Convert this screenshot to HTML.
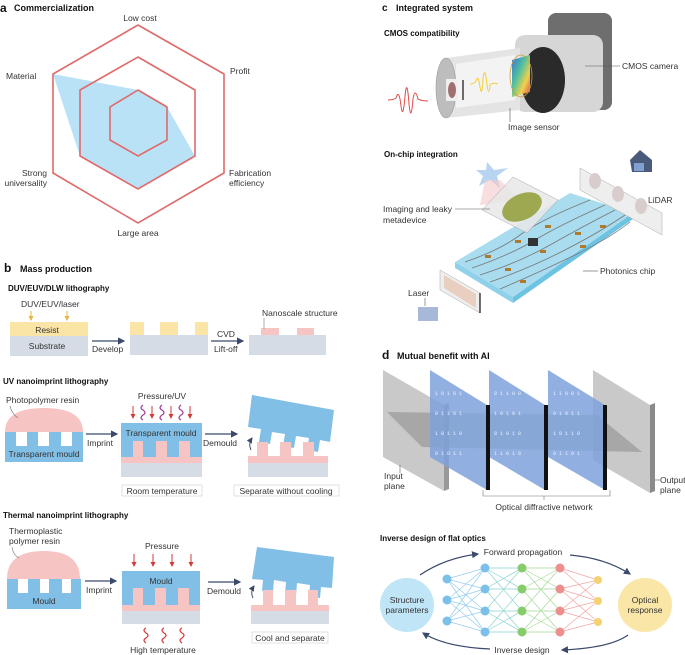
<!DOCTYPE html>
<html><head><meta charset="utf-8"><style>
html,body{margin:0;padding:0;background:#fff;}
svg{display:block;font-family:"Liberation Sans",sans-serif;}
.t{font-size:8.5px;fill:#333;}
.b{font-size:9px;font-weight:bold;fill:#111;}
.L{font-size:12px;font-weight:bold;fill:#111;}
</style></head><body>
<svg width="685" height="655" viewBox="0 0 685 655" xmlns="http://www.w3.org/2000/svg">
<defs>
<marker id="ar" markerWidth="6" markerHeight="6" refX="5" refY="3" orient="auto"><path d="M0,0L6,3L0,6z" fill="#3b4a6b"/></marker>
<marker id="rr" markerWidth="5" markerHeight="5" refX="4" refY="2.5" orient="auto"><path d="M0,0L5,2.5L0,5z" fill="#d33a3a"/></marker>
<marker id="yr" markerWidth="5" markerHeight="5" refX="4" refY="2.5" orient="auto"><path d="M0,0L5,2.5L0,5z" fill="#e8b53a"/></marker>
<linearGradient id="spec" x1="0" y1="0" x2="1" y2="1"><stop offset="0" stop-color="#3b6fd8"/><stop offset=".4" stop-color="#4fc1a0"/><stop offset=".7" stop-color="#f2d14a"/><stop offset="1" stop-color="#e0405a"/></linearGradient>
</defs>

<!-- Panel a -->
<text x="0" y="12" class="L">a</text><text x="14" y="11" class="b">Commercialization</text>
<polygon points="53,74 138,90 167,107 195,156 138,189 80,156" fill="#b9e2f7"/>
<g fill="none" stroke="#e06a6a" stroke-width="1.6">
<polygon points="138,25 224,74 224,173 138,223 53,173 53,74"/>
<polygon points="138,57 195,90 195,156 138,189 80,156 80,90"/>
<polygon points="138,90 167,107 167,140 138,156 110,140 110,107"/>
</g>
<text x="140" y="21" class="t" text-anchor="middle">Low cost</text>
<text x="230" y="74" class="t">Profit</text>
<text x="6" y="79" class="t">Material</text>
<text x="229" y="176" class="t">Fabrication</text><text x="229" y="186" class="t">efficiency</text>
<text x="47" y="176" class="t" text-anchor="end">Strong</text><text x="47" y="186" class="t" text-anchor="end">universality</text>
<text x="138" y="236" class="t" text-anchor="middle">Large area</text>

<!-- Panel b -->
<text x="4" y="272" class="L">b</text><text x="20" y="272" class="b">Mass production</text>
<text x="8" y="291" class="b" style="font-size:8px">DUV/EUV/DLW lithography</text>
<text x="21" y="307" class="t">DUV/EUV/laser</text>
<line x1="31" y1="311" x2="31" y2="320" stroke="#e8b53a" stroke-width="1" marker-end="url(#yr)"/>
<line x1="67" y1="311" x2="67" y2="320" stroke="#e8b53a" stroke-width="1" marker-end="url(#yr)"/>
<rect x="10" y="322" width="78" height="14" fill="#fbe5a6"/><rect x="10" y="336" width="78" height="20" fill="#d5dce5"/>
<text x="47" y="333" class="t" text-anchor="middle">Resist</text><text x="47" y="349" class="t" text-anchor="middle">Substrate</text>
<line x1="92" y1="341" x2="124" y2="341" stroke="#3b4a6b" stroke-width="1.2" marker-end="url(#ar)"/>
<text x="92" y="352" class="t">Develop</text>
<rect x="130" y="335" width="78" height="20" fill="#d5dce5"/>
<rect x="130" y="322" width="14" height="13" fill="#fbe5a6"/><rect x="160" y="322" width="18" height="13" fill="#fbe5a6"/><rect x="195" y="322" width="13" height="13" fill="#fbe5a6"/>
<line x1="211" y1="341" x2="243" y2="341" stroke="#3b4a6b" stroke-width="1.2" marker-end="url(#ar)"/>
<text x="217" y="337" class="t">CVD</text><text x="214" y="352" class="t">Lift-off</text>
<rect x="249" y="335" width="77" height="20" fill="#d5dce5"/>
<rect x="261" y="328" width="18" height="7" fill="#f6c4c2"/><rect x="297" y="328" width="17" height="7" fill="#f6c4c2"/>
<line x1="264" y1="318" x2="264" y2="329" stroke="#777" stroke-width=".6"/>
<text x="262" y="316" class="t">Nanoscale structure</text>

<text x="3" y="384" class="b" style="font-size:8px">UV nanoimprint lithography</text>
<text x="6" y="403" class="t">Photopolymer resin</text>
<path d="M5,432 Q5,408 44,408 Q83,408 83,432Z" fill="#f6c4c2"/>
<path d="M5,432H16V446H27V432H38V446H49V432H61V446H72V432H83V462H5Z" fill="#82bfe6"/>
<path d="M10,406 Q12,414 18,418" fill="none" stroke="#777" stroke-width=".6"/>
<text x="44" y="457" class="t" text-anchor="middle">Transparent mould</text>
<line x1="86" y1="434" x2="117" y2="434" stroke="#3b4a6b" stroke-width="1.2" marker-end="url(#ar)"/>
<text x="87" y="446" class="t">Imprint</text>
<rect x="121" y="423" width="81" height="34" fill="#82bfe6"/>
<rect x="133" y="441" width="10" height="16" fill="#f6c4c2"/><rect x="156" y="441" width="11" height="16" fill="#f6c4c2"/><rect x="179" y="441" width="11" height="16" fill="#f6c4c2"/>
<rect x="121" y="457" width="81" height="6" fill="#f6c4c2"/><rect x="121" y="463" width="81" height="14" fill="#d5dce5"/>
<text x="161" y="436" class="t" text-anchor="middle">Transparent mould</text>
<text x="162" y="399" class="t" text-anchor="middle">Pressure/UV</text>
<g stroke="#d33a3a" stroke-width="1"><line x1="133" y1="406" x2="133" y2="418" marker-end="url(#rr)"/><line x1="152" y1="406" x2="152" y2="418" marker-end="url(#rr)"/><line x1="171" y1="406" x2="171" y2="418" marker-end="url(#rr)"/><line x1="190" y1="406" x2="190" y2="418" marker-end="url(#rr)"/></g>
<g fill="none" stroke="#9a3d9a" stroke-width="1.2"><path d="M143,405 q-4,3 0,5 q4,3 0,5 q-4,3 0,5"/><path d="M162,405 q-4,3 0,5 q4,3 0,5 q-4,3 0,5"/><path d="M181,405 q-4,3 0,5 q4,3 0,5 q-4,3 0,5"/></g>
<line x1="205" y1="434" x2="237" y2="434" stroke="#3b4a6b" stroke-width="1.2" marker-end="url(#ar)"/>
<text x="203" y="446" class="t">Demould</text>
<path d="M252,395 L334,410 L330,442 L320,440 L318,452 L307,450 L309,438 L296,436 L294,448 L283,446 L285,434 L272,432 L270,444 L259,442 L261,429 L248,427Z" fill="#82bfe6"/>
<path d="M248,456H257V442H268V456H280V442H291V456H303V442H314V456H328V463H248Z" fill="#f6c4c2"/>
<rect x="248" y="463" width="80" height="14" fill="#d5dce5"/>
<path d="M251,450 Q248,444 252,438" fill="none" stroke="#3b4a6b" stroke-width="1" marker-end="url(#ar)"/>
<rect x="122" y="485" width="80" height="11" fill="#fff" stroke="#ccc" stroke-width=".6"/><text x="162" y="494" class="t" text-anchor="middle">Room temperature</text>
<rect x="234" y="485" width="105" height="11" fill="#fff" stroke="#ccc" stroke-width=".6"/><text x="286" y="494" class="t" text-anchor="middle">Separate without cooling</text>

<text x="3" y="518" class="b" style="font-size:8px">Thermal nanoimprint lithography</text>
<text x="9" y="534" class="t">Thermoplastic</text><text x="9" y="544" class="t">polymer resin</text>
<path d="M7,579 Q7,551 44,551 Q80,551 80,579Z" fill="#f6c4c2"/>
<path d="M7,579H18V593H28V579H40V593H49V579H62V593H71V579H81V609H7Z" fill="#82bfe6"/>
<path d="M12,547 Q13,555 19,558" fill="none" stroke="#777" stroke-width=".6"/>
<text x="44" y="604" class="t" text-anchor="middle">Mould</text>
<line x1="85" y1="581" x2="116" y2="581" stroke="#3b4a6b" stroke-width="1.2" marker-end="url(#ar)"/>
<text x="86" y="593" class="t">Imprint</text>
<rect x="122" y="571" width="78" height="34" fill="#82bfe6"/>
<rect x="133" y="588" width="10" height="17" fill="#f6c4c2"/><rect x="155" y="588" width="11" height="17" fill="#f6c4c2"/><rect x="178" y="588" width="11" height="17" fill="#f6c4c2"/>
<rect x="122" y="605" width="78" height="6" fill="#f6c4c2"/><rect x="122" y="611" width="78" height="13" fill="#d5dce5"/>
<text x="161" y="584" class="t" text-anchor="middle">Mould</text>
<text x="162" y="549" class="t" text-anchor="middle">Pressure</text>
<g stroke="#d33a3a" stroke-width="1"><line x1="134" y1="554" x2="134" y2="566" marker-end="url(#rr)"/><line x1="153" y1="554" x2="153" y2="566" marker-end="url(#rr)"/><line x1="172" y1="554" x2="172" y2="566" marker-end="url(#rr)"/><line x1="191" y1="554" x2="191" y2="566" marker-end="url(#rr)"/></g>
<g fill="none" stroke="#d33a3a" stroke-width="1.2"><path d="M146,643 q-4,-3 0,-5 q4,-3 0,-5 q-4,-3 0,-5"/><path d="M164,643 q-4,-3 0,-5 q4,-3 0,-5 q-4,-3 0,-5"/><path d="M182,643 q-4,-3 0,-5 q4,-3 0,-5 q-4,-3 0,-5"/></g>
<text x="163" y="653" class="t" text-anchor="middle">High temperature</text>
<line x1="208" y1="582" x2="240" y2="582" stroke="#3b4a6b" stroke-width="1.2" marker-end="url(#ar)"/>
<text x="207" y="594" class="t">Demould</text>
<path d="M257,547 L334,557 L332,588 L321,587 L320,598 L309,597 L310,585 L297,583 L296,595 L285,594 L286,582 L274,580 L273,592 L262,591 L263,580 L252,579Z" fill="#82bfe6"/>
<path d="M251,605H263V590H273V605H285V590H296V605H308V590H318V605H329V611H251Z" fill="#f6c4c2"/>
<rect x="251" y="611" width="78" height="13" fill="#d5dce5"/>
<path d="M253,598 Q250,592 254,586" fill="none" stroke="#3b4a6b" stroke-width="1" marker-end="url(#ar)"/>
<rect x="252" y="632" width="76" height="11" fill="#fff" stroke="#ccc" stroke-width=".6"/><text x="290" y="641" class="t" text-anchor="middle">Cool and separate</text>

<!-- Panel c -->
<text x="382" y="11" class="L" style="font-size:10px">c</text><text x="396" y="11" class="b">Integrated system</text>
<text x="384" y="36" class="b" style="font-size:8px">CMOS compatibility</text>
<rect x="548" y="13" width="64" height="97" rx="8" fill="#6e6e6e"/>
<rect x="515" y="35" width="88" height="77" rx="10" fill="#d6d6d6"/>
<ellipse cx="543" cy="80" rx="22" ry="33" fill="#2a2a2a"/>
<path d="M446,58 L520,48 L520,110 L446,118Z" fill="#e4e4e4"/>
<ellipse cx="446" cy="88" rx="10" ry="30" fill="#bdbdbd" stroke="#999" stroke-width=".6"/>
<path d="M456,64 L515,55 L515,100 L456,108Z" fill="#f3f3f3"/>
<polygon points="512,60 530,55 530,92 512,97" fill="url(#spec)"/>
<ellipse cx="521" cy="76" rx="11" ry="21" fill="none" stroke="#c8a040" stroke-width=".8"/>
<rect x="446" y="79" width="12" height="22" fill="#eee"/>
<ellipse cx="452" cy="90" rx="4" ry="8" fill="#a07070"/>
<line x1="463" y1="80" x2="463" y2="100" stroke="#111" stroke-width="1.2"/>
<path d="M388,100 q5,0 8,-2 q3,-10 5,8 q2,15 4,-10 q2,-20 4,8 q2,20 4,-5 q2,-12 5,0 q4,2 10,2" fill="none" stroke="#e24a4a" stroke-width="1"/>
<path d="M470,84 q4,0 6,-3 q2,-8 4,6 q2,12 3,-8 q2,-15 4,6 q2,13 3,0 q3,-3 8,-1" fill="none" stroke="#f0cf3a" stroke-width="1"/>
<line x1="585" y1="66" x2="620" y2="66" stroke="#555" stroke-width=".6"/>
<text x="622" y="69" class="t">CMOS camera</text>
<line x1="510" y1="108" x2="510" y2="122" stroke="#555" stroke-width=".6"/>
<text x="508" y="130" class="t">Image sensor</text>

<text x="384" y="157" class="b" style="font-size:8px">On-chip integration</text>
<polygon points="487,162 494,170 508,168 497,176 500,188 490,180 479,186 483,176 476,170 486,170" fill="#b8d4f0"/>
<polygon points="485,180 500,180 520,200 480,205" fill="#f3c8c8" opacity=".6"/>
<polygon points="455,262 570,193 633,213 513,297" fill="#a9dcef"/>
<polygon points="513,297 633,213 633,219 513,303" fill="#6ec3e2"/>
<polygon points="455,262 513,297 513,303 455,268" fill="#8fd0ea"/>
<g fill="none" stroke="#777" stroke-width=".8">
<path d="M465,262 Q500,250 520,235 T590,200"/><path d="M472,268 Q510,255 535,240 T605,205"/><path d="M480,275 Q520,262 550,245 T615,210"/><path d="M490,282 Q530,268 565,250 T625,215"/><path d="M500,289 Q540,272 575,255 T630,222"/>
</g>
<g fill="#b07a2a"><rect x="485" y="255" width="6" height="3"/><rect x="515" y="240" width="6" height="3"/><rect x="545" y="225" width="6" height="3"/><rect x="505" y="268" width="6" height="3"/><rect x="540" y="250" width="6" height="3"/><rect x="575" y="232" width="6" height="3"/><rect x="520" y="280" width="6" height="3"/><rect x="580" y="245" width="6" height="3"/><rect x="600" y="225" width="6" height="3"/></g>
<rect x="528" y="238" width="10" height="8" fill="#333"/>
<polygon points="482,210 513,177 558,200 527,233" fill="#e8e8e8" opacity=".85" stroke="#999" stroke-width=".5"/>
<ellipse cx="522" cy="207" rx="21" ry="13" transform="rotate(-25 522 207)" fill="#9ea850"/>
<polygon points="580,168 662,213 662,235 580,190" fill="#eee" stroke="#aaa" stroke-width=".5"/>
<ellipse cx="595" cy="181" rx="6" ry="8" fill="#d9cccc"/><ellipse cx="618" cy="194" rx="6" ry="8" fill="#d9cccc"/><ellipse cx="641" cy="206" rx="6" ry="8" fill="#d9cccc"/>
<polygon points="630,160 640,150 652,160 652,172 632,172" fill="#4a5a7a"/>
<rect x="634" y="163" width="10" height="8" fill="#7fa0d0"/>
<text x="648" y="203" class="t">LiDAR</text>
<polygon points="440,270 480,293 480,313 440,290" fill="#eee" stroke="#aaa" stroke-width=".5"/>
<polygon points="444,275 476,294 476,308 444,288" fill="#e8cfc0"/>
<line x1="480" y1="293" x2="480" y2="313" stroke="#111" stroke-width="1.2"/>
<rect x="418" y="307" width="20" height="14" fill="#a8b8d8"/>
<text x="408" y="296" class="t">Laser</text>
<line x1="425" y1="298" x2="425" y2="306" stroke="#555" stroke-width=".6"/>
<text x="383" y="212" class="t">Imaging and leaky</text><text x="383" y="223" class="t">metadevice</text>
<line x1="455" y1="209" x2="490" y2="209" stroke="#555" stroke-width=".6"/>
<line x1="583" y1="271" x2="598" y2="271" stroke="#555" stroke-width=".6"/>
<text x="600" y="274" class="t">Photonics chip</text>

<!-- Panel d -->
<text x="382" y="359" class="L">d</text><text x="397" y="359" class="b">Mutual benefit with AI</text>
<polygon points="383,370 444,405 444,491 383,457" fill="#c9c9c9"/>
<polygon points="444,405 449,403 449,489 444,491" fill="#999"/>
<polygon points="593,370 650,405 650,493 593,460" fill="#c9c9c9"/>
<polygon points="650,405 655,403 655,491 650,493" fill="#8a8a8a"/>
<polygon points="387,412 597,415 642,452 422,447" fill="#8a8a8a" opacity=".55"/>
<g opacity=".85">
<polygon points="430,370 487,405 487,490 430,457" fill="#7ea3dc"/>
<polygon points="489,370 545,405 545,490 489,457" fill="#7ea3dc"/>
<polygon points="548,370 605,405 605,490 548,457" fill="#7ea3dc"/>
</g>
<rect x="486" y="405" width="4" height="85" fill="#111"/><rect x="544" y="405" width="4" height="85" fill="#111"/><rect x="603" y="405" width="4" height="85" fill="#111"/>
<g font-size="5" fill="#e8f0ff" font-family="Liberation Mono,monospace">
<text x="435" y="395">1 0 1 0 1</text><text x="435" y="415">0 1 1 0 1</text><text x="435" y="435">1 0 1 1 0</text><text x="435" y="455">0 1 0 1 1</text>
<text x="494" y="395">0 1 1 0 0</text><text x="494" y="415">1 0 1 0 1</text><text x="494" y="435">0 1 0 1 0</text><text x="494" y="455">1 1 0 1 0</text>
<text x="553" y="395">1 1 0 0 1</text><text x="553" y="415">0 1 0 1 1</text><text x="553" y="435">1 0 1 1 0</text><text x="553" y="455">0 1 1 0 1</text>
</g>
<line x1="400" y1="465" x2="400" y2="473" stroke="#555" stroke-width=".6"/>
<text x="384" y="479" class="t">Input</text><text x="384" y="489" class="t">plane</text>
<line x1="655" y1="480" x2="660" y2="480" stroke="#555" stroke-width=".6"/>
<text x="660" y="483" class="t">Output</text><text x="660" y="493" class="t">plane</text>
<path d="M483,490V496H610V490M544,496V500" fill="none" stroke="#777" stroke-width=".6"/>
<text x="544" y="510" class="t" text-anchor="middle">Optical diffractive network</text>

<text x="380" y="541" class="b" style="font-size:8px">Inverse design of flat optics</text>
<text x="523" y="555" class="t" text-anchor="middle">Forward propagation</text>
<text x="522" y="653" class="t" text-anchor="middle">Inverse design</text>
<path d="M420,575 Q445,558 478,554" fill="none" stroke="#3b4a6b" stroke-width="1.2" marker-end="url(#ar)"/>
<path d="M570,555 Q605,558 630,574" fill="none" stroke="#3b4a6b" stroke-width="1.2" marker-end="url(#ar)"/>
<path d="M490,649 Q445,647 423,633" fill="none" stroke="#3b4a6b" stroke-width="1.2" marker-end="url(#ar)"/>
<path d="M628,635 Q610,648 562,650" fill="none" stroke="#3b4a6b" stroke-width="1.2" marker-end="url(#ar)"/>
<circle cx="407" cy="605" r="27" fill="#bfe5f7"/><circle cx="645" cy="605" r="27" fill="#fae7a8"/>
<text x="407" y="603" class="t" text-anchor="middle">Structure</text><text x="407" y="613" class="t" text-anchor="middle">parameters</text>
<text x="645" y="603" class="t" text-anchor="middle">Optical</text><text x="645" y="613" class="t" text-anchor="middle">response</text>
<g stroke-width=".7" opacity=".8">
<g stroke="#7cc0ea"><path d="M447,579L485,568M447,579L485,589M447,579L485,611M447,579L485,632M447,600L485,568M447,600L485,589M447,600L485,611M447,600L485,632M447,621L485,568M447,621L485,589M447,621L485,611M447,621L485,632"/></g>
<g stroke="#6cc9c0"><path d="M485,568L522,568M485,568L522,589M485,568L522,611M485,589L522,568M485,589L522,589M485,589L522,632M485,611L522,568M485,611L522,611M485,611L522,632M485,632L522,589M485,632L522,611M485,632L522,632"/></g>
<g stroke="#8fd07a"><path d="M522,568L560,568M522,568L560,589M522,568L560,611M522,589L560,568M522,589L560,589M522,589L560,632M522,611L560,568M522,611L560,611M522,611L560,632M522,632L560,589M522,632L560,611M522,632L560,632"/></g>
<g stroke="#ee8f8f"><path d="M560,568L598,580M560,568L598,601M560,589L598,580M560,589L598,601M560,589L598,622M560,611L598,580M560,611L598,601M560,611L598,622M560,632L598,601M560,632L598,622"/></g>
</g>
<g fill="#7cc0ea"><circle cx="447" cy="579" r="4.5"/><circle cx="447" cy="600" r="4.5"/><circle cx="447" cy="621" r="4.5"/><circle cx="485" cy="568" r="4.5"/><circle cx="485" cy="589" r="4.5"/><circle cx="485" cy="611" r="4.5"/><circle cx="485" cy="632" r="4.5"/></g>
<g fill="#86cc6a"><circle cx="522" cy="568" r="4.5"/><circle cx="522" cy="589" r="4.5"/><circle cx="522" cy="611" r="4.5"/><circle cx="522" cy="632" r="4.5"/></g>
<g fill="#ee8f8f"><circle cx="560" cy="568" r="4.5"/><circle cx="560" cy="589" r="4.5"/><circle cx="560" cy="611" r="4.5"/><circle cx="560" cy="632" r="4.5"/></g>
<g fill="#f4d272"><circle cx="598" cy="580" r="4"/><circle cx="598" cy="601" r="4"/><circle cx="598" cy="622" r="4"/></g>
</svg>
</body></html>
